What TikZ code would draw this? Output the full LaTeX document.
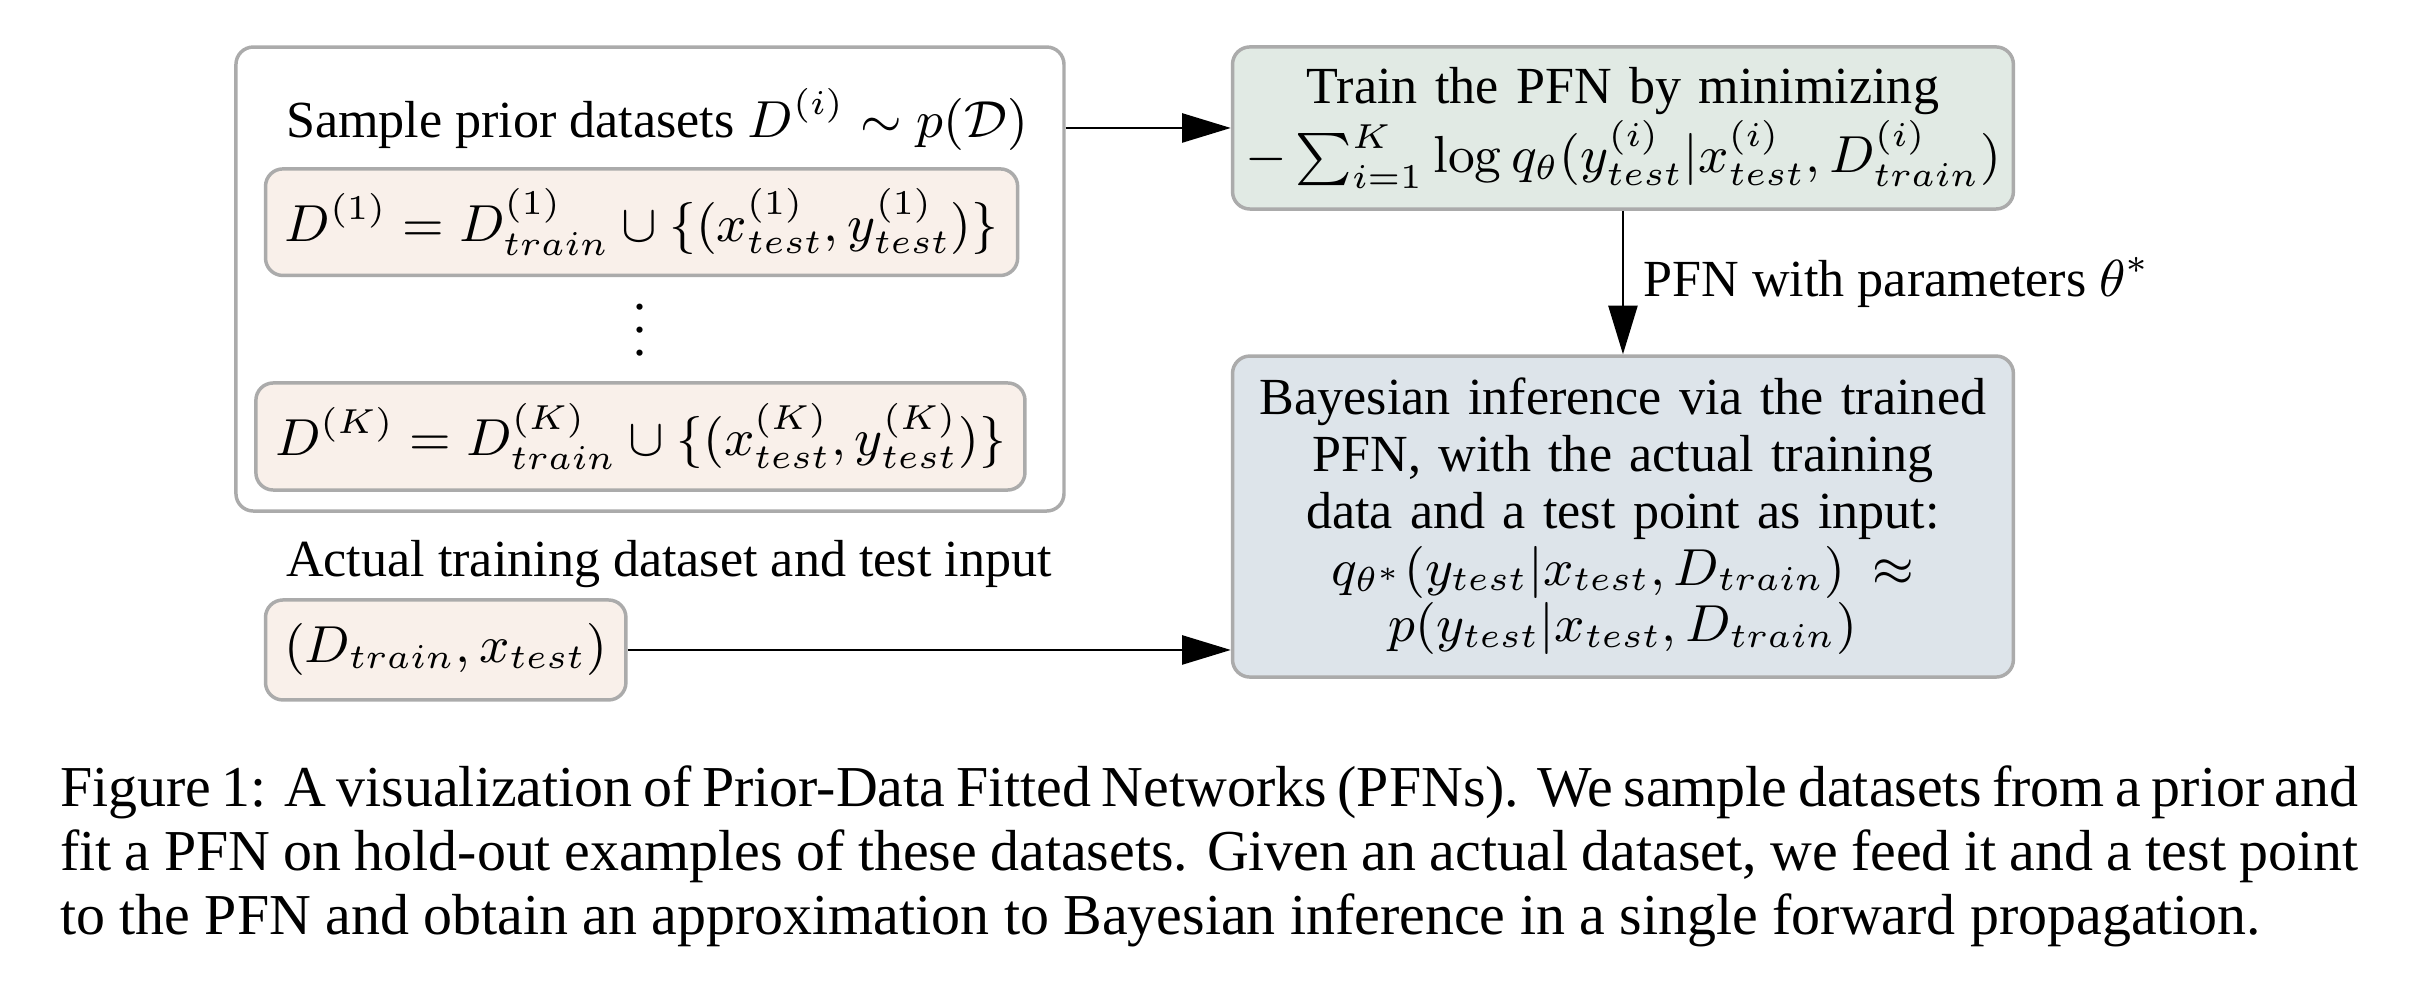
\documentclass[tikz,border=0pt]{standalone}
\usepackage{amsmath,amssymb}
\usepackage[no-math]{fontspec}
\setmainfont{Liberation Serif}
\usepackage{tikz}
\usetikzlibrary{arrows.meta,calc}

\definecolor{boxgray}{HTML}{ABABAB}
\definecolor{priorfill}{HTML}{F9F0EA}
\definecolor{trainfill}{HTML}{E1EAE4}
\definecolor{inferfill}{HTML}{DDE4EA}

\begin{document}
\begin{tikzpicture}[every node/.style={font=\fontsize{9}{9.8}\selectfont},
    box/.style={draw=boxgray, line width=0.6pt, rounded corners=3pt, inner sep=2pt},
    arr/.style={-{Triangle[length=8.4pt,width=5pt]}, line width=0.45pt}]
                \useasboundingbox (0,0) rectangle (14.716,-6.107);

                % prior datasets
                \node[box, fill=white, minimum width=5.027cm, minimum height=2.817cm] (prior) at (3.946,-1.694) {};
                \node[anchor=base west, inner sep=0] (sample) at (1.730,-0.832) {Sample prior datasets $D^{(i)} \sim p(\mathcal{D})$};
                \node[box, fill=priorfill, minimum width=4.566cm, minimum height=0.647cm] (d1) at (3.895,-1.349) {$D^{(1)} = D^{(1)}_{train} \cup \{(x^{(1)}_{test}, y^{(1)}_{test})\}$};
                \node[inner sep=0] (dots) at (3.885,-1.90) {$\vdots$};
                \node[box, fill=priorfill, minimum width=4.669cm, minimum height=0.65cm] (dK) at (3.888,-2.65) {$D^{(K)} = D^{(K)}_{train} \cup \{(x^{(K)}_{test}, y^{(K)}_{test})\}$};

                % actual data
                \node[anchor=base west, inner sep=0] (actual) at (1.730,-3.497) {Actual training dataset and test input};
                \node[box, fill=priorfill, minimum width=2.188cm, minimum height=0.607cm] (input) at (2.706,-3.946) {$(D_{train}, x_{test})$};

                % PFN training and inference
                \node[box, fill=trainfill, minimum width=4.723cm, minimum height=0.984cm, text width=4.6cm, align=center] (train) at (9.853,-0.777) {Train the PFN by minimizing\\ $-\sum_{i=1}^K \log q_\theta(y^{(i)}_{test}|x^{(i)}_{test}, D^{(i)}_{train})$};
                \node[box, fill=inferfill, minimum width=4.723cm, minimum height=1.949cm, text width=4.6cm, align=center] (bayes) at (9.853,-3.136) {Bayesian inference via the trained\\ PFN, with the actual training\\ data and a test point as input:\\ $q_{\theta^*}(y_{test}|x_{test}, D_{train}) \approx$\\ $p(y_{test}|x_{test}, D_{train})$};

                % arrows
                \draw[arr] (prior.east |- train.west) -- (train.west);
                \draw[arr] (train.south) -- (bayes.north) node[midway,right]{PFN with parameters $\theta^*$};
                \draw[arr] (input.east) -- (input.east -| bayes.west);

                % caption
                \node[anchor=north west, inner sep=0, text width=397pt, align=justify, font=\fontsize{10}{11}\selectfont] (caption) at (0.358,-4.643) {Figure 1: A visualization of Prior-Data Fitted Networks (PFNs). We sample datasets from a prior and\linebreak fit a PFN on hold-out examples of these datasets. Given an actual dataset, we feed it and a test point\linebreak to the PFN and obtain an approximation to Bayesian inference in a single forward propagation.};
            \end{tikzpicture}
\end{document}
